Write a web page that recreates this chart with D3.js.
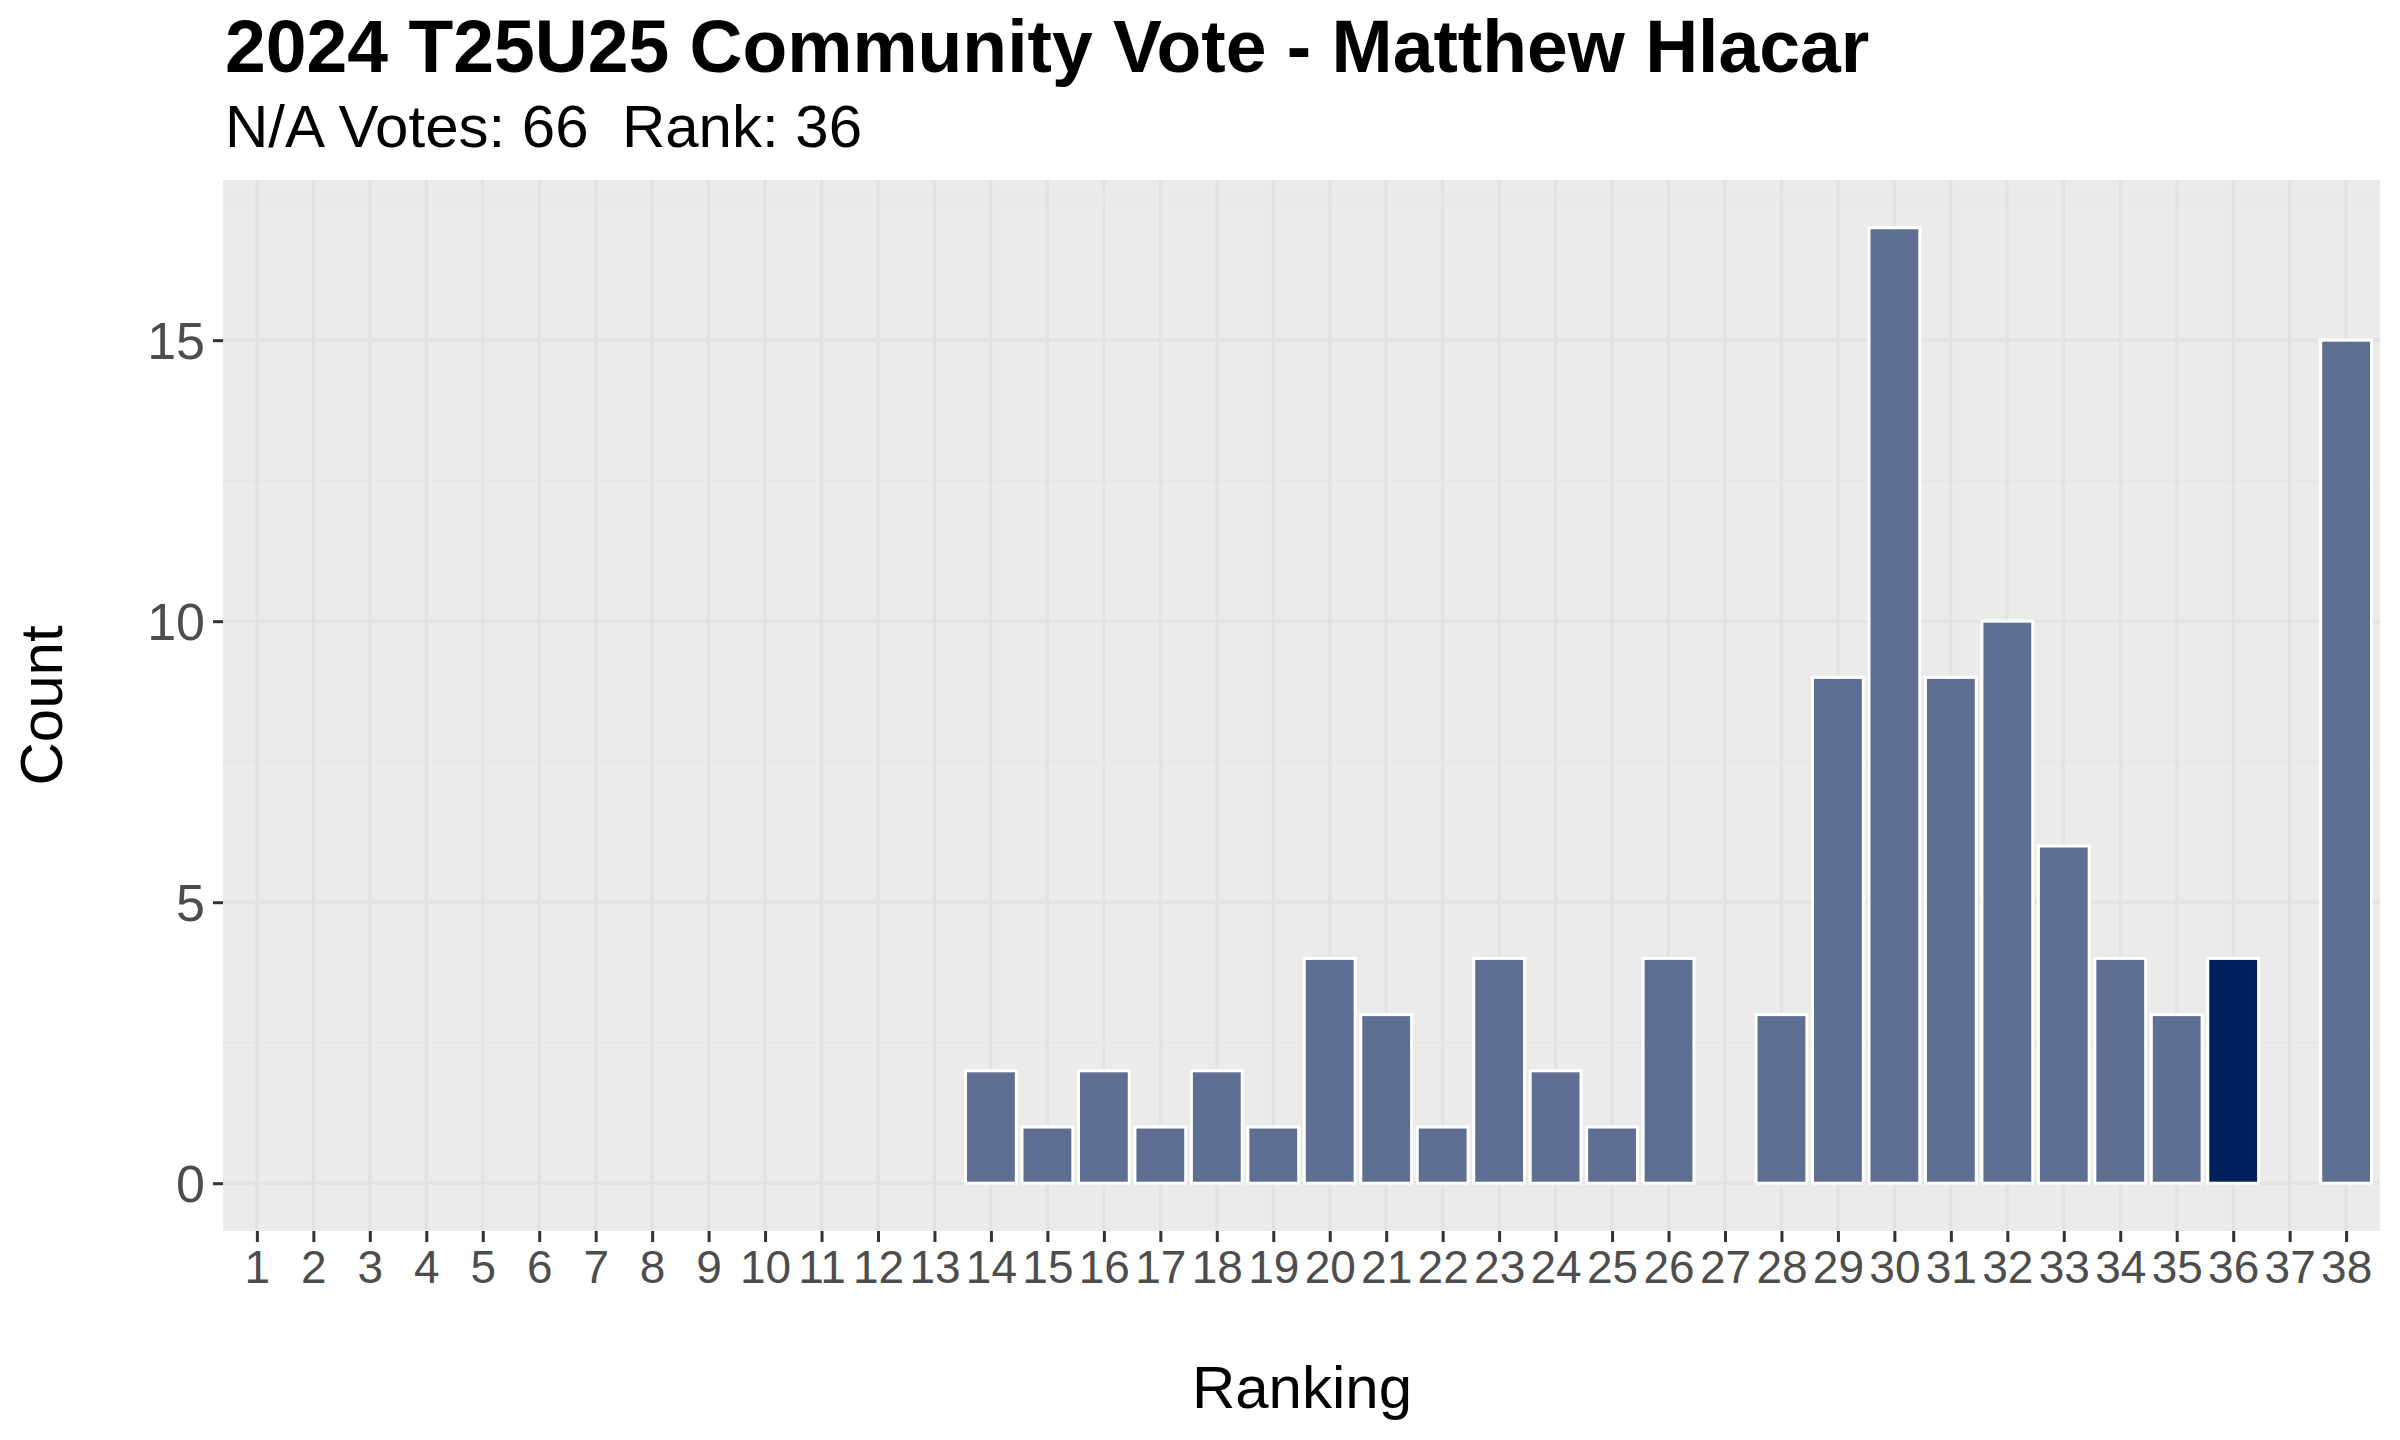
<!DOCTYPE html>
<html>
<head>
<meta charset="utf-8">
<script src="https://cdn.jsdelivr.net/npm/d3@7"></script>
<style>
  body { margin: 0; background: #fff; }
  text { font-family: "Liberation Sans", Arial, sans-serif; }
</style>
</head>
<body>
<div id="chart-area"></div>
<script>
const rankings = d3.range(1, 39);
const counts = [0, 0, 0, 0, 0, 0, 0, 0, 0, 0, 0, 0, 0,
    2, 1, 2, 1, 2, 1, 4, 3, 1, 4, 2, 1, 4, 0, 3, 9, 17, 9, 10, 6, 4, 3, 4, 0, 15];
const highlightRank = 36;
const yTicks = [0, 5, 10, 15];
const yMinor = [2.5, 7.5, 12.5, 17.5];

const title = '2024 T25U25 Community Vote - Matthew Hlacar';
const subtitle = 'N/A Votes: 66  Rank: 36';

const width = 2400, height = 1440;
const panelLeft = 223, panelRight = 2380, panelTop = 180, panelBottom = 1231;

let svg = d3.select('#chart-area').append('svg')
    .attr('width', width).attr('height', height);

let data = rankings.map((r, i) => ({ rank: r, count: counts[i] }));

// ggplot-style discrete expansion: 0.6 of a step on each side
let step = (panelRight - panelLeft) / (rankings.length - 1 + 1.2);
let x = d3.scalePoint()
    .domain(rankings)
    .range([panelLeft + 0.6 * step, panelRight - 0.6 * step]);

let maxCount = d3.max(counts);
let y = d3.scaleLinear()
    .domain([-0.05 * maxCount, maxCount * 1.05])
    .range([panelBottom, panelTop]);

svg.append('rect')
    .attr('x', panelLeft).attr('y', panelTop)
    .attr('width', panelRight - panelLeft).attr('height', panelBottom - panelTop)
    .attr('fill', '#EBEBEB');

let grid = svg.append('g');
grid.selectAll('.minor').data(yMinor).enter().append('line')
    .attr('x1', panelLeft).attr('x2', panelRight)
    .attr('y1', (d) => y(d)).attr('y2', (d) => y(d))
    .attr('stroke', '#E6E6E6').attr('stroke-width', 1.5);
grid.selectAll('.major').data(yTicks).enter().append('line')
    .attr('x1', panelLeft).attr('x2', panelRight)
    .attr('y1', (d) => y(d)).attr('y2', (d) => y(d))
    .attr('stroke', '#E2E2E2').attr('stroke-width', 3);
grid.selectAll('.vmajor').data(rankings).enter().append('line')
    .attr('y1', panelTop).attr('y2', panelBottom)
    .attr('x1', (d) => x(d)).attr('x2', (d) => x(d))
    .attr('stroke', '#E2E2E2').attr('stroke-width', 3);

let barW = step * 0.9;
svg.selectAll('.bar').data(data.filter((d) => d.count > 0)).enter().append('rect')
    .attr('x', (d) => x(d.rank) - barW / 2)
    .attr('y', (d) => y(d.count))
    .attr('width', barW)
    .attr('height', (d) => y(0) - y(d.count))
    .attr('fill', (d) => d.rank === highlightRank ? '#00205B' : '#5E6F93')
    .attr('stroke', '#ffffff')
    .attr('stroke-width', 3);

// axes
let xAxis = svg.append('g')
    .attr('transform', `translate(0,${panelBottom})`)
    .call(d3.axisBottom(x).tickSize(11).tickPadding(8));
xAxis.select('.domain').remove();
xAxis.selectAll('line').attr('stroke', '#333333').attr('stroke-width', 3);
xAxis.selectAll('text')
    .attr('fill', '#4D4D4D')
    .style('font-size', '46px')
    .attr('dy', '0.72em');

let yAxis = svg.append('g')
    .attr('transform', `translate(${panelLeft},0)`)
    .call(d3.axisLeft(y).tickValues(yTicks).tickSize(10).tickPadding(8));
yAxis.select('.domain').remove();
yAxis.selectAll('line').attr('stroke', '#333333').attr('stroke-width', 3);
yAxis.selectAll('text')
    .attr('fill', '#4D4D4D')
    .style('font-size', '52px')
    .attr('dy', '0.36em');

svg.append('text')
    .attr('x', 1302).attr('y', 1408)
    .attr('text-anchor', 'middle')
    .style('font-size', '60px')
    .text('Ranking');

svg.append('text')
    .attr('transform', `translate(62,${(panelTop + panelBottom) / 2}) rotate(-90)`)
    .attr('text-anchor', 'middle')
    .style('font-size', '60px')
    .text('Count');

svg.append('text')
    .attr('x', 225).attr('y', 72)
    .style('font-size', '73.3px')
    .style('font-weight', 'bold')
    .text(title);

svg.append('text')
    .attr('x', 225).attr('y', 147)
    .style('font-size', '60px')
    .style('white-space', 'pre')
    .text(subtitle);
</script>
</body>
</html>
